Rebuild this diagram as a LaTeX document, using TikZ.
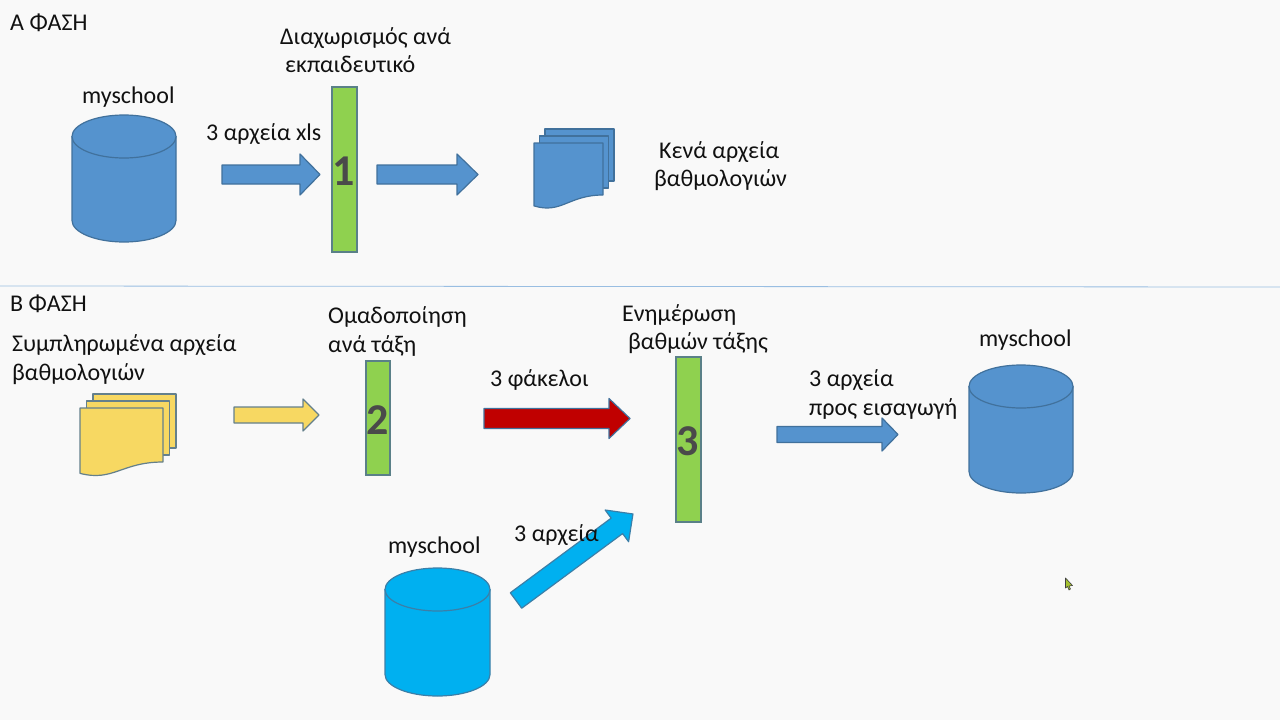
\documentclass[tikz,border=0pt]{standalone}
\usepackage{fontspec}
\setmainfont{Carlito}
\definecolor{bg}{HTML}{F9F9F9}
\definecolor{blu}{HTML}{5593CE}
\definecolor{bluedge}{HTML}{41719C}
\definecolor{cyn}{HTML}{00B0F0}
\definecolor{cynedge}{HTML}{3B7FA8}
\definecolor{grn}{HTML}{8FD14F}
\definecolor{grnedge}{HTML}{5A8088}
\definecolor{yel}{HTML}{F7D862}
\definecolor{yeledge}{HTML}{64808C}
\definecolor{redd}{HTML}{C00000}
\definecolor{txt}{HTML}{111111}
\definecolor{numc}{HTML}{4A4A4A}
\tikzset{
  lbl/.style={anchor=base west,inner sep=0pt,font=\fontsize{24}{26}\selectfont,text=txt},
  num/.style={font=\bfseries\fontsize{44}{46}\selectfont,text=numc,inner sep=0pt},
  bar/.style={fill=grn,draw=grnedge,line width=1.3pt},
  shp/.style={line width=1.2pt,line join=round}
}
% cylinder: x1, x2, top, bottom, ry, fill, edge
\newcommand{\mycyl}[7]{%
  \pgfmathsetmacro{\cxx}{(#1+#2)/2}\pgfmathsetmacro{\rxx}{(#2-#1)/2}%
  \pgfmathsetmacro{\tcy}{#3+#5}\pgfmathsetmacro{\bcy}{#4-#5}%
  \draw[shp,fill=#6,draw=#7] (#1,\tcy) -- (#2,\tcy) -- (#2,\bcy) arc[start angle=0,end angle=180,x radius=\rxx,y radius=#5] -- cycle;
  \draw[shp,fill=#6,draw=#7] (\cxx,\tcy) ellipse[x radius=\rxx,y radius=#5];}
% doc stack: left, top, w, h, dx, dy, fill, edge
\newcommand{\mystack}[8]{%
  \draw[shp,fill=#7,draw=#8] (#1+#5*2,#2-#6*2) rectangle ++(#3,#4);
  \draw[shp,fill=#7,draw=#8] (#1+#5,#2-#6) rectangle ++(#3,#4);
  \draw[shp,fill=#7,draw=#8] (#1,#2) -- ++(#3,0) -- ++(0,#4)
    .. controls +(-#3*.5,0) and +(#3*.4,#4*.16) .. (#1,#2+#4*1.21) -- cycle;}
% block arrow: tail x, tail y, length, angle, half shaft, head len, half head, fill, edge
\newcommand{\myarrow}[9]{%
  \begin{scope}[shift={(#1,#2)},rotate=#4]
    \draw[shp,fill=#8,draw=#9] (0,-#5) -- (#3-#6,-#5) -- (#3-#6,-#7) -- (#3,0) -- (#3-#6,#7) -- (#3-#6,#5) -- (0,#5) -- cycle;
  \end{scope}}
\begin{document}
\begin{tikzpicture}[x=1pt,y=-1pt]
\useasboundingbox (0,0) rectangle (1280,720);
\fill[bg] (0,0) rectangle (1280,720);
\coordinate (divL) at (0,286); \coordinate (divR) at (1280,287);
\draw[color=blu!60,line width=.8pt] (divL) -- (divR);
% Phase A
\node[lbl] (pa) at (10,30) {Α ΦΑΣΗ};
\node[lbl] (t1) at (82,103.5) {myschool};
\mycyl{72}{176}{115}{242}{21.5}{blu}{bluedge}
\node[lbl] (t2) at (206,140) {3 αρχεία xls};
\myarrow{222}{174.5}{98}{0}{9.5}{20}{20.5}{blu}{bluedge}
\node[lbl] (t3) at (280,44) {Διαχωρισμός ανά};
\node[lbl] (t4) at (285,72.5) {εκπαιδευτικό};
\node[bar,minimum width=25pt,minimum height=165pt,inner sep=0pt] (b1) at (344.5,169.5) {};
\node[num] (n1) at (344,171) {1};
\myarrow{377}{174.5}{101}{0}{9.5}{21}{20.5}{blu}{bluedge}
\mystack{534}{143}{69}{52}{5.5}{7}{blu}{bluedge}
\node[lbl] (t5) at (659,158) {Κενά αρχεία};
\node[lbl] (t6) at (654,186.5) {βαθμολογιών};
% Phase B
\node[lbl] (pb) at (10,311) {Β ΦΑΣΗ};
\node[lbl] (t7) at (12,351) {Συμπληρωμένα αρχεία};
\node[lbl] (t8) at (12,380) {βαθμολογιών};
\mystack{80}{408}{83}{54}{6.5}{7}{yel}{yeledge}
\myarrow{234}{415}{85}{0}{8}{16}{16}{yel}{yeledge}
\node[lbl] (t9) at (328,323.5) {Ομαδοποίηση};
\node[lbl] (t10) at (328,352) {ανά τάξη};
\node[bar,minimum width=24pt,minimum height=114pt,inner sep=0pt] (b2) at (378,418) {};
\node[num] (n2) at (378,420) {2};
\node[lbl] (t11) at (490,386) {3 φάκελοι};
\myarrow{484}{418.5}{146}{0}{10}{21}{20}{redd}{bluedge}
\node[lbl] (t12) at (622,321.5) {Ενημέρωση};
\node[lbl] (t13) at (628,349.5) {βαθμών τάξης};
\node[bar,minimum width=25pt,minimum height=165pt,inner sep=0pt] (b3) at (688.5,439.5) {};
\node[num] (n3) at (688,441) {3};
\myarrow{777}{434.5}{121}{0}{8}{16}{16.5}{blu}{bluedge}
\node[lbl] (t14) at (809,386) {3 αρχεία};
\node[lbl] (t15) at (809,415) {προς εισαγωγή};
\node[lbl] (t16) at (979,346) {myschool};
\mycyl{969}{1073}{365}{493}{21.5}{blu}{bluedge}
\node[lbl] (t17) at (388,553) {myschool};
\mycyl{385}{490}{568}{696}{21.5}{cyn}{cynedge}
\myarrow{516}{600.5}{145.5}{36.5}{9.6}{20}{19.7}{cyn}{cynedge}
\node[lbl] (t18) at (514,541) {3 αρχεία};
% cursor
\draw[fill=yellow!70!green!85!black,draw=black!75,line width=.6pt,line join=round]
  (1065.5,578) -- (1065.5,588) -- (1067.5,586.5) -- (1069,590) -- (1070.5,589) -- (1069,586) -- (1072.5,585.5) -- cycle;
\end{tikzpicture}
\end{document}
